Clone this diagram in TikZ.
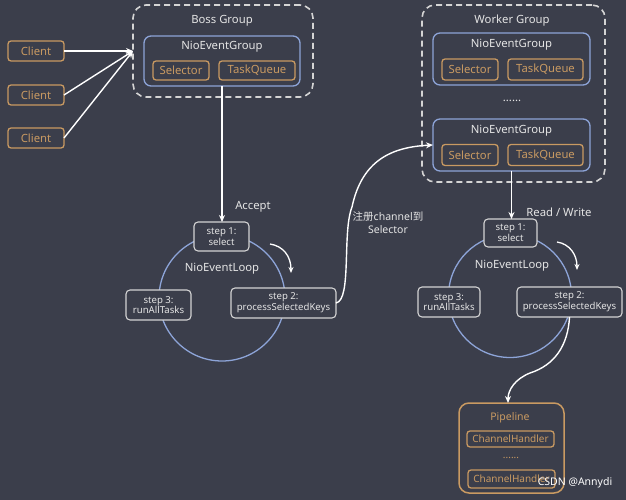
\documentclass[tikz,border=0pt]{standalone}
\usepackage{fontspec}
\setmainfont{Noto Sans}
\newfontfamily\cjk{Noto Sans CJK SC}
\usetikzlibrary{arrows.meta}
\definecolor{bgc}{HTML}{3B3E4B}
\definecolor{orng}{HTML}{C99A62}
\definecolor{blu}{HTML}{8DA4D8}
\definecolor{lgray}{HTML}{D4D4D4}
\definecolor{txt}{HTML}{E4E4E4}
\begin{document}
\begin{tikzpicture}[x=1pt,y=-1pt,
  every node/.style={inner sep=0pt,outer sep=0pt},
  obox/.style={draw=orng,fill=bgc,line width=1.3pt,rounded corners=3pt,text=orng,font=\fontsize{11.3}{12}\selectfont},
  gbox/.style={draw=blu,line width=1.3pt,rounded corners=7pt},
  dbox/.style={draw=lgray,line width=1.6pt,dash pattern=on 6pt off 4pt,rounded corners=13pt},
  sbox/.style={draw=lgray,fill=bgc,line width=1.1pt,rounded corners=4pt,text=txt,align=center,font=\fontsize{9.6}{10.8}\selectfont},
  lbl/.style={text=txt,font=\fontsize{11.3}{12}\selectfont},
  conn/.style={draw=white,line width=1.4pt,-{Stealth[length=7pt,width=6pt]}},
  loop/.style={draw=blu,line width=1.3pt}
]
\useasboundingbox[fill=bgc] (0,0) rectangle (626,500);

% Clients
\node[obox,minimum width=56pt,minimum height=20pt] (c1) at (36,51) {Client};
\node[obox,minimum width=56pt,minimum height=20pt] (c2) at (36,95) {Client};
\node[obox,minimum width=56pt,minimum height=20pt] (c3) at (36,138) {Client};

% Boss group
\node[dbox,minimum width=180pt,minimum height=92pt] (boss) at (223,51) {};
\node[lbl] (bosslbl) at (222,21) {Boss Group};
\node[gbox,minimum width=156pt,minimum height=50pt] (bg) at (222,61) {};
\node[lbl] (bglbl) at (222,47) {NioEventGroup};
\node[obox,minimum width=56pt,minimum height=19pt] (bsel) at (181,70.5) {Selector};
\node[obox,minimum width=76pt,minimum height=19pt] (btq) at (257,70.5) {TaskQueue};

\draw[conn] (c1.east) -- (boss.west);
\draw[conn] (c2.east) -- (boss.west);
\draw[conn] (c3.east) -- (boss.west);

% Boss loop
\draw[loop] (222,298) circle (63pt);
\node[sbox,minimum width=55pt,minimum height=29pt] (ls1) at (221.5,236.5) {step 1:\\select};
\node[sbox,minimum width=65pt,minimum height=30pt] (ls3) at (158.5,305) {step 3:\\runAllTasks};
\node[sbox,minimum width=105pt,minimum height=30pt] (ls2) at (283.5,303) {step 2:\\processSelectedKeys};
\node[lbl] (lloop) at (222,269) {NioEventLoop};
\node[lbl] (accept) at (253,207) {Accept};
\draw[conn] (bg.south) -- (bg.south |- ls1.north);
\coordinate (la1) at (270,244);
\coordinate (la2) at (291,273);
\draw[draw=white,line width=1.3pt,-{Stealth[length=6pt,width=5pt]}] (la1) .. controls (283,246) and (291,256) .. (la2);

% Worker group
\node[dbox,minimum width=183pt,minimum height=177pt] (worker) at (513.5,93.5) {};
\node[lbl] (wlbl) at (512,21) {Worker Group};
\node[gbox,minimum width=157pt,minimum height=52pt] (wg1) at (511.5,59) {};
\node[lbl] (wg1lbl) at (511.5,45) {NioEventGroup};
\node[obox,minimum width=56pt,minimum height=21pt] (wsel1) at (470,69.5) {Selector};
\node[obox,minimum width=75pt,minimum height=21pt] (wtq1) at (545.5,69.5) {TaskQueue};
\node[lbl] (wdots) at (512,101) {......};
\node[gbox,minimum width=157pt,minimum height=52pt] (wg2) at (511.5,145) {};
\node[lbl] (wg2lbl) at (511.5,131) {NioEventGroup};
\node[obox,minimum width=56pt,minimum height=21pt] (wsel2) at (470,155) {Selector};
\node[obox,minimum width=75pt,minimum height=21pt] (wtq2) at (545.5,155) {TaskQueue};

% register curve
\coordinate (rmid) at (352,207);
\draw[conn] (ls2.east) .. controls (352,300) and (342,232) .. (rmid) .. controls (362,160) and (392,147) .. (wg2.west);
\node[lbl,align=center,font=\fontsize{10.5}{13}\selectfont] (reg) at (388,223) {{\cjk 注册}channel{\cjk 到}\\Selector};

% Worker loop
\draw[loop] (510,296) circle (61.5pt);
\node[sbox,minimum width=53pt,minimum height=28pt] (rs1) at (510.5,233) {step 1:\\select};
\node[sbox,minimum width=62pt,minimum height=30pt] (rs3) at (449,302) {step 3:\\runAllTasks};
\node[sbox,minimum width=105pt,minimum height=30pt] (rs2) at (569.5,302) {step 2:\\processSelectedKeys};
\node[lbl] (rloop) at (512,266) {NioEventLoop};
\node[lbl] (rw) at (559,212) {Read / Write};
\draw[conn] (wg2.south) -- (wg2.south |- rs1.north);
\coordinate (ra1) at (557,242);
\coordinate (ra2) at (577,270);
\draw[draw=white,line width=1.3pt,-{Stealth[length=6pt,width=5pt]}] (ra1) .. controls (570,244) and (577,255) .. (ra2);

% Pipeline
\node[draw=orng,line width=1.5pt,rounded corners=10pt,minimum width=105pt,minimum height=90pt] (pipe) at (511.5,448) {};
\node[text=orng,font=\fontsize{10.5}{12}\selectfont] (pipelbl) at (510,418) {Pipeline};
\node[obox,minimum width=87pt,minimum height=16pt,font=\fontsize{10}{11}\selectfont] (ch1) at (510.5,439) {ChannelHandler};
\node[text=orng,font=\fontsize{10}{12}\selectfont] (pdots) at (511,458) {......};
\node[obox,minimum width=87pt,minimum height=18pt,font=\fontsize{10}{11}\selectfont] (ch2) at (511.5,479) {ChannelHandler};
\coordinate (pmid) at (530,373);
\draw[conn] (rs2.south) .. controls (568,345) and (555,365) .. (pmid) .. controls (515,379) and (508,390) .. (pipe.north -| 508,0);

% watermark
\node[text=white,font=\fontsize{10.5}{12}\selectfont] (wm) at (575,483) {CSDN @Annydi};
\end{tikzpicture}
\end{document}
